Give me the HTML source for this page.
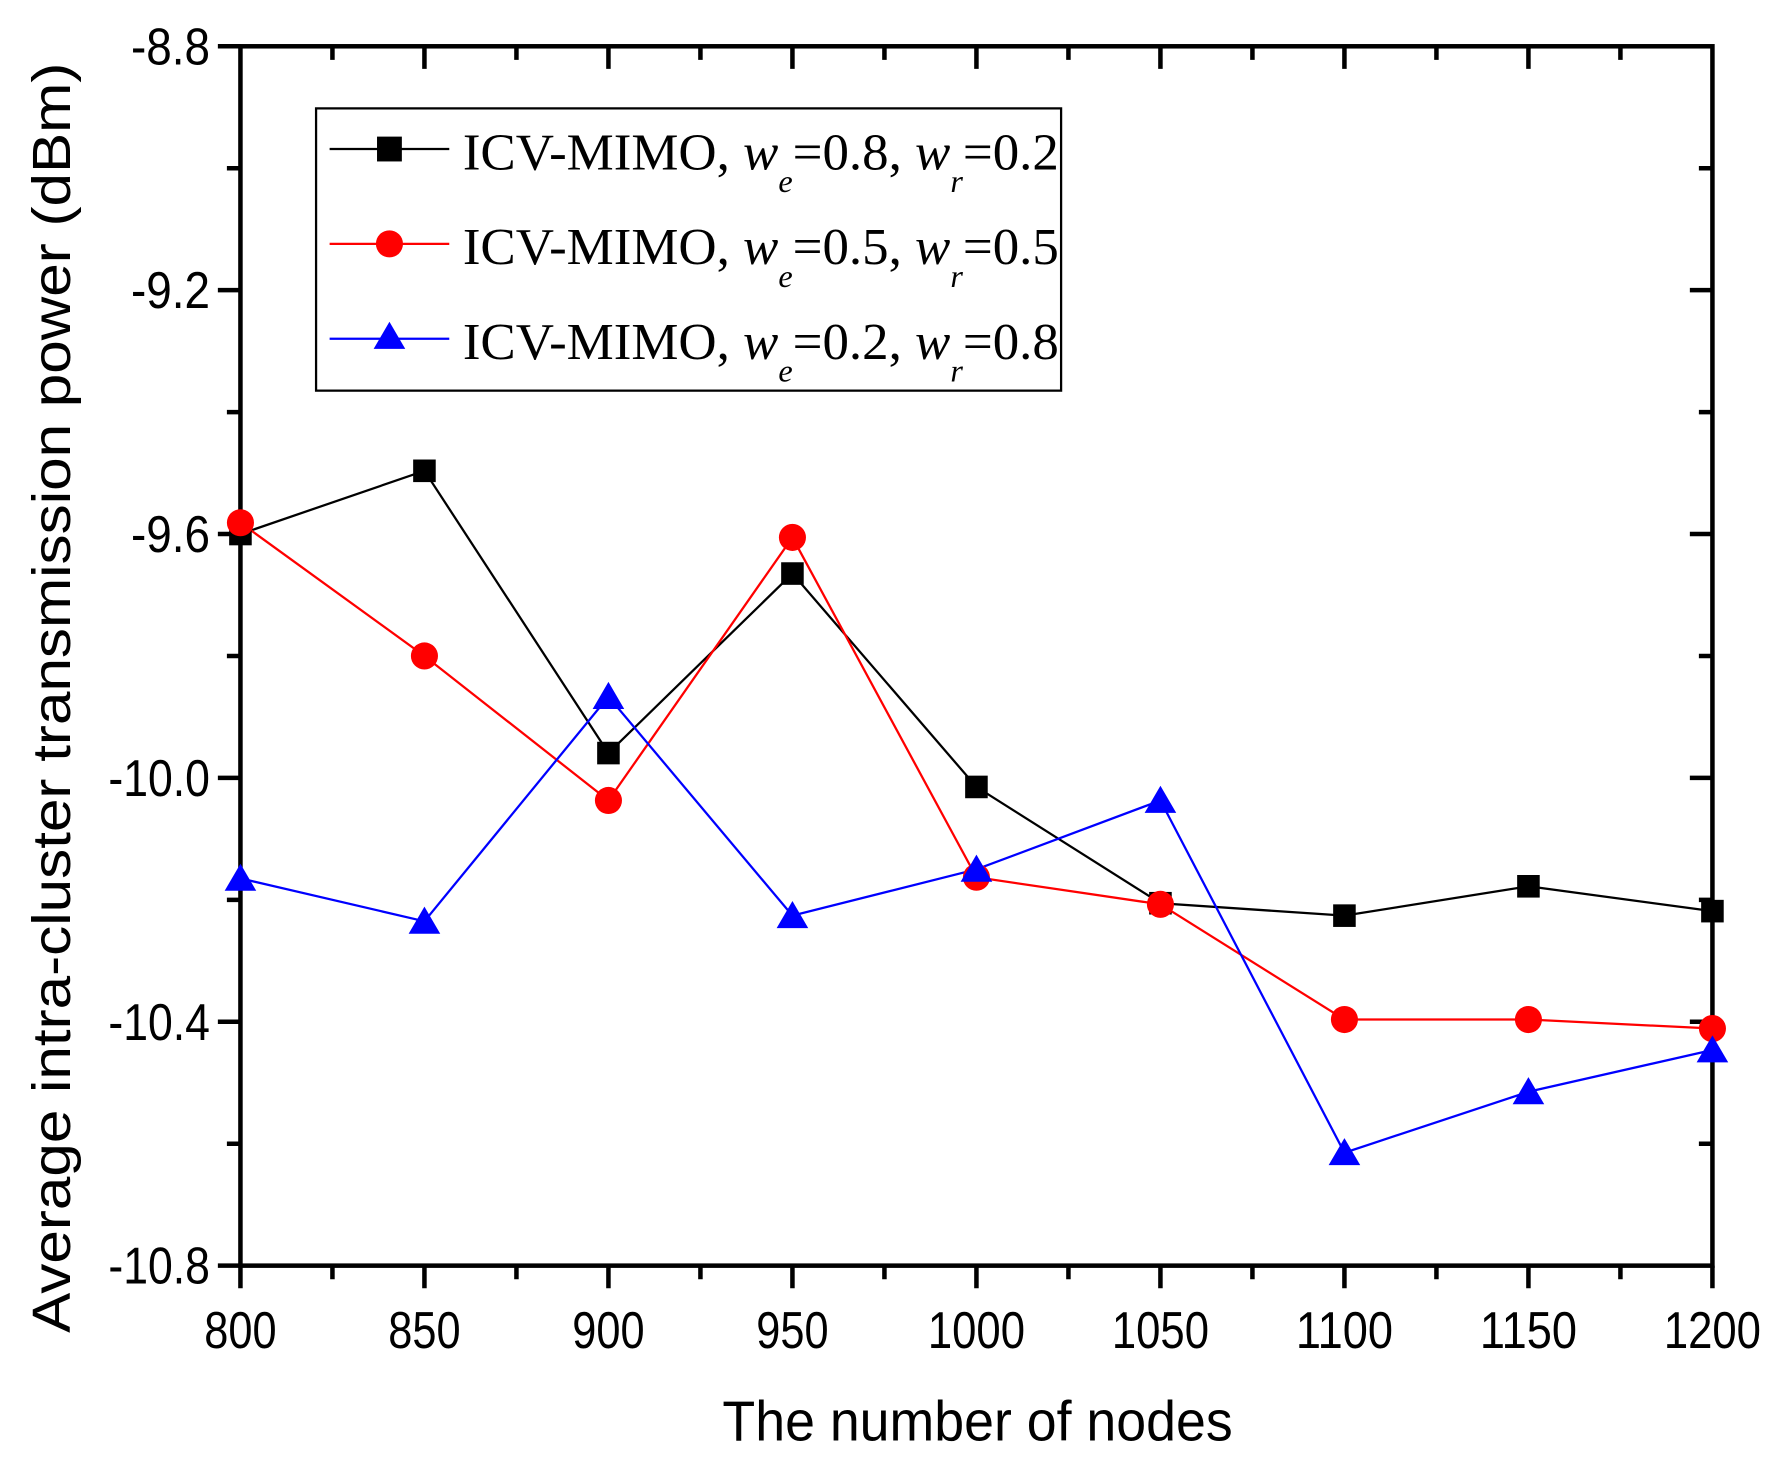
<!DOCTYPE html>
<html><head><meta charset="utf-8"><style>html,body{margin:0;padding:0;background:#fff;}svg{display:block}</style></head>
<body>
<svg width="1770" height="1470" viewBox="0 0 1568 1302" preserveAspectRatio="none" xmlns="http://www.w3.org/2000/svg">
<rect width="1568" height="1302" fill="#fff"/>
<g stroke="#000" stroke-width="4" fill="none">
<rect x="213" y="41" width="1304" height="1080"/>
<path d="M213 1121v20M376 1121v20M539 1121v20M702 1121v20M865 1121v20M1028 1121v20M1191 1121v20M1354 1121v20M1517 1121v20
M294.5 1121v12M457.5 1121v12M620.5 1121v12M783.5 1121v12M946.5 1121v12M1109.5 1121v12M1272.5 1121v12M1435.5 1121v12"/>
<path d="M376 41v20M539 41v20M702 41v20M865 41v20M1028 41v20M1191 41v20M1354 41v20
M294.5 41v12M457.5 41v12M620.5 41v12M783.5 41v12M946.5 41v12M1109.5 41v12M1272.5 41v12M1435.5 41v12"/>
<path d="M213 41h-20M213 257h-20M213 473h-20M213 689h-20M213 905h-20M213 1121h-20
M213 149h-12M213 365h-12M213 581h-12M213 797h-12M213 1013h-12"/>
<path d="M1517 257h-20M1517 473h-20M1517 689h-20M1517 905h-20
M1517 149h-12M1517 365h-12M1517 581h-12M1517 797h-12M1517 1013h-12"/>
</g>
<g font-family="Liberation Sans, Arial, sans-serif" font-size="46" fill="#000">
<g text-anchor="end">
<text x="186" y="57" textLength="70" lengthAdjust="spacingAndGlyphs">-8.8</text>
<text x="186" y="273" textLength="70" lengthAdjust="spacingAndGlyphs">-9.2</text>
<text x="186" y="489" textLength="70" lengthAdjust="spacingAndGlyphs">-9.6</text>
<text x="186" y="705" textLength="90" lengthAdjust="spacingAndGlyphs">-10.0</text>
<text x="186" y="921" textLength="90" lengthAdjust="spacingAndGlyphs">-10.4</text>
<text x="186" y="1137" textLength="90" lengthAdjust="spacingAndGlyphs">-10.8</text>
</g>
<g text-anchor="middle" lengthAdjust="spacingAndGlyphs">
<text x="213" y="1194" textLength="64" lengthAdjust="spacingAndGlyphs">800</text><text x="376" y="1194" textLength="64" lengthAdjust="spacingAndGlyphs">850</text><text x="539" y="1194" textLength="64" lengthAdjust="spacingAndGlyphs">900</text>
<text x="702" y="1194" textLength="64" lengthAdjust="spacingAndGlyphs">950</text><text x="865" y="1194" textLength="86" lengthAdjust="spacingAndGlyphs">1000</text><text x="1028" y="1194" textLength="86" lengthAdjust="spacingAndGlyphs">1050</text>
<text x="1191" y="1194" textLength="86" lengthAdjust="spacingAndGlyphs">1100</text><text x="1354" y="1194" textLength="86" lengthAdjust="spacingAndGlyphs">1150</text><text x="1517" y="1194" textLength="86" lengthAdjust="spacingAndGlyphs">1200</text>
</g>
<text x="866" y="1276" font-size="50" text-anchor="middle" textLength="452" lengthAdjust="spacingAndGlyphs">The number of nodes</text>
<text transform="translate(62,618) rotate(-90)" font-size="48" text-anchor="middle" textLength="1125" lengthAdjust="spacingAndGlyphs">Average intra-cluster transmission power (dBm)</text>
</g>
<polyline fill="none" stroke="#000" stroke-width="2" points="213,473 376,417 539,667 702,508 865,697 1028,800 1191,811 1354,785 1517,807"/>
<polyline fill="none" stroke="#f00" stroke-width="2" points="213,463 376,581 539,709 702,476 865,777 1028,801 1191,903 1354,903 1517,911"/>
<polyline fill="none" stroke="#00f" stroke-width="2" points="213,778 376,816 539,617 702,811 865,770 1028,709 1191,1021 1354,967 1517,930"/>
<g fill="#000">
<rect x="203" y="463" width="20" height="20"/><rect x="366" y="407" width="20" height="20"/><rect x="529" y="657" width="20" height="20"/>
<rect x="692" y="498" width="20" height="20"/><rect x="855" y="687" width="20" height="20"/><rect x="1018" y="790" width="20" height="20"/>
<rect x="1181" y="801" width="20" height="20"/><rect x="1344" y="775" width="20" height="20"/><rect x="1507" y="797" width="20" height="20"/>
</g>
<g fill="#f00">
<circle cx="213" cy="463" r="12"/><circle cx="376" cy="581" r="12"/><circle cx="539" cy="709" r="12"/>
<circle cx="702" cy="476" r="12"/><circle cx="865" cy="777" r="12"/><circle cx="1028" cy="801" r="12"/>
<circle cx="1191" cy="903" r="12"/><circle cx="1354" cy="903" r="12"/><circle cx="1517" cy="911" r="12"/>
</g>
<g fill="#00f">
<path d="M213 765l14 24h-28z"/><path d="M376 803l14 24h-28z"/><path d="M539 604l14 24h-28z"/>
<path d="M702 798l14 24h-28z"/><path d="M865 757l14 24h-28z"/><path d="M1028 696l14 24h-28z"/>
<path d="M1191 1008l14 24h-28z"/><path d="M1354 954l14 24h-28z"/><path d="M1517 917l14 24h-28z"/>
</g>
<rect x="280" y="96" width="660" height="250" fill="#fff" stroke="#000" stroke-width="2"/>
<line x1="292" y1="132" x2="398" y2="132" stroke="#000" stroke-width="2"/><rect x="334" y="121" width="22" height="22" fill="#000"/>
<line x1="292" y1="216" x2="398" y2="216" stroke="#f00" stroke-width="2"/><circle cx="345" cy="216" r="12" fill="#f00"/>
<line x1="292" y1="300" x2="398" y2="300" stroke="#00f" stroke-width="2"/><path d="M345 285l14 24h-28z" fill="#00f"/>
<g font-family="Liberation Serif, Times New Roman, serif" font-size="46" fill="#000">
<text x="410" y="150" textLength="528" lengthAdjust="spacingAndGlyphs">ICV-MIMO, <tspan font-style="italic">w</tspan><tspan font-style="italic" font-size="28" dy="20">e</tspan><tspan dy="-20">=0.8, </tspan><tspan font-style="italic">w</tspan><tspan font-style="italic" font-size="28" dy="20">r</tspan><tspan dy="-20">=0.2</tspan></text>
<text x="410" y="234" textLength="528" lengthAdjust="spacingAndGlyphs">ICV-MIMO, <tspan font-style="italic">w</tspan><tspan font-style="italic" font-size="28" dy="20">e</tspan><tspan dy="-20">=0.5, </tspan><tspan font-style="italic">w</tspan><tspan font-style="italic" font-size="28" dy="20">r</tspan><tspan dy="-20">=0.5</tspan></text>
<text x="410" y="318" textLength="528" lengthAdjust="spacingAndGlyphs">ICV-MIMO, <tspan font-style="italic">w</tspan><tspan font-style="italic" font-size="28" dy="20">e</tspan><tspan dy="-20">=0.2, </tspan><tspan font-style="italic">w</tspan><tspan font-style="italic" font-size="28" dy="20">r</tspan><tspan dy="-20">=0.8</tspan></text>
</g>
</svg>
</body></html>
